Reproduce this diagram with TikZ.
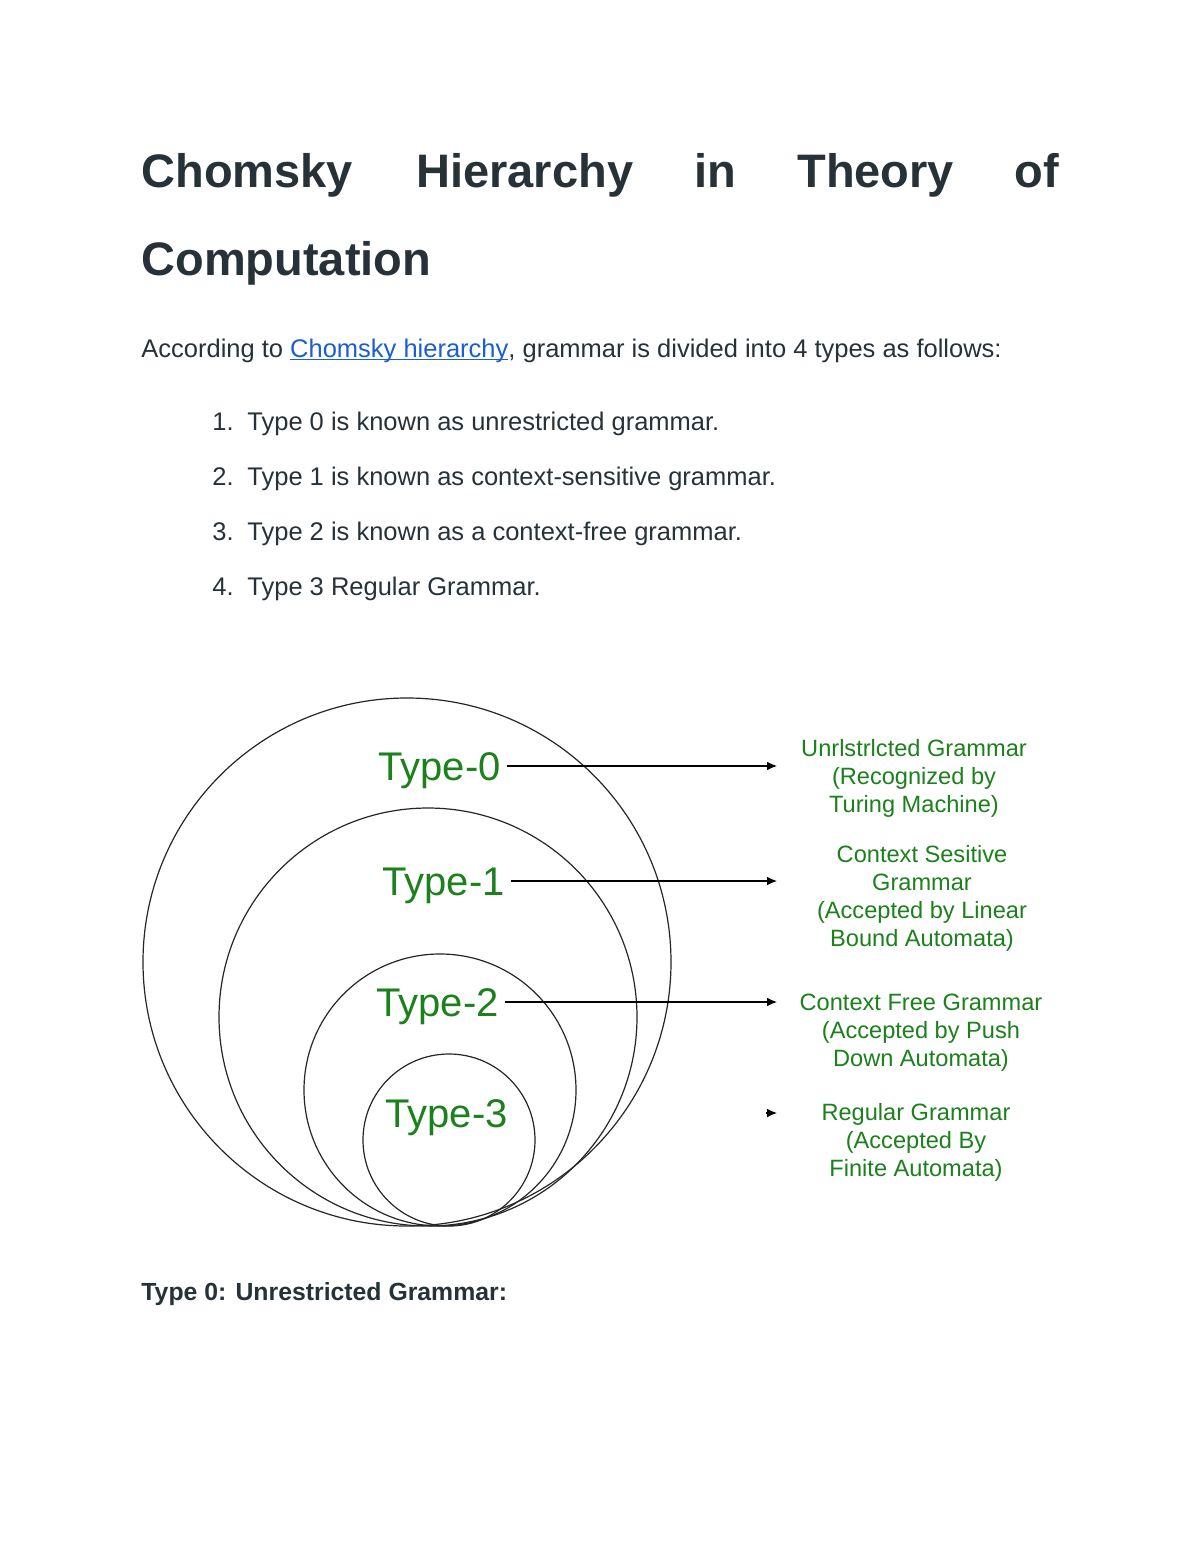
\documentclass[tikz,border=0pt]{standalone}
\usepackage{fontspec}
\setmainfont{Liberation Sans}
\usetikzlibrary{arrows.meta,positioning}
\definecolor{inkgray}{RGB}{38,50,56}
\definecolor{linkblue}{RGB}{26,94,214}
\definecolor{gfgreen}{RGB}{28,128,28}
\newcommand\linkul[1]{\setbox0\hbox{#1}\rlap{\rule[-1.4pt]{\wd0}{.6pt}}\box0}
\tikzset{
 ttl/.style={anchor=base west,inner sep=0,text=inkgray,font=\bfseries\fontsize{23.5pt}{28pt}\selectfont},
 body/.style={anchor=base west,inner sep=0,text=inkgray,font=\fontsize{12.75pt}{15pt}\selectfont},
 typelbl/.style={anchor=east,inner sep=3pt,text=gfgreen,text height=14.3pt,text depth=0pt,font=\fontsize{20pt}{24pt}\selectfont},
 desc/.style={align=center,inner sep=0,text=gfgreen,font=\fontsize{11.8pt}{14pt}\selectfont},
 ring/.style={draw=black!85,line width=.6pt},
 feed/.style={-{Latex[length=5pt,width=4.4pt]},line width=.6pt},
}
\begin{document}
\begin{tikzpicture}[x=.5pt,y=-.5pt]
\useasboundingbox[fill=white] (0,0) rectangle (1200,1553);
% heading
\foreach \w/\x in {Chomsky/141,Hierarchy/416,in/694,Theory/797,of/1014}{
 \node[ttl] (w\w) at (\x,187) {\w};
}
\node[ttl] (wComputation) at (141,275) {Computation};
\node[body] (intro) at (141,357) {According to \textcolor{linkblue}{\linkul{Chomsky hierarchy}}, grammar is divided into 4 types as follows:};
\foreach \k/\t in {1/{Type 0 is known as unrestricted grammar.},2/{Type 1 is known as context-sensitive grammar.},3/{Type 2 is known as a context-free grammar.},4/{Type 3 Regular Grammar.}}{
 \node[body] (num\k) at (212,{430+55*(\k-1)}) {\k.};
 \node[body] (item\k) at (247,{430+55*(\k-1)}) {\t};
}
% nested circles
\draw[ring] (407,962) circle (264);
\draw[ring] (428,1017) circle (209);
\draw[ring] (440,1090) circle (136);
\draw[ring] (449,1140) circle (86);
\node[typelbl] (t0) at (507,766) {Type-0};
\node[typelbl] (t1) at (511,881) {Type-1};
\node[typelbl] (t2) at (505,1002) {Type-2};
\node[typelbl] (t3) at (514,1113) {Type-3};
% right-hand descriptions
\node[desc] (d0) at (914,778) {Unrlstrlcted Grammar\\(Recognized by\\Turing Machine)};
\node[desc] (d1) at (922,898) {Context Sesitive\\Grammar\\(Accepted by Linear\\Bound Automata)};
\node[desc] (d2) at (921,1033) {Context Free Grammar\\(Accepted by Push\\Down Automata)};
\node[desc] (d3) at (916,1142) {Regular Grammar\\(Accepted By\\Finite Automata)};
\coordinate (e0) at (777,766);
\coordinate (e1) at (777,881);
\coordinate (e2) at (777,1002);
\coordinate (s3) at (766,1113);
\coordinate (e3) at (777,1113);
\draw[feed] (t0.east) -- (e0);
\draw[feed] (t1.east) -- (e1);
\draw[feed] (t2.east) -- (e2);
\draw[feed] (s3) -- (e3);
\node[anchor=base west,inner sep=0,text=inkgray,font=\bfseries\fontsize{12.4pt}{15pt}\selectfont] (sec0) at (141,1300) {Type 0: Unrestricted Grammar:};
\end{tikzpicture}
\end{document}
